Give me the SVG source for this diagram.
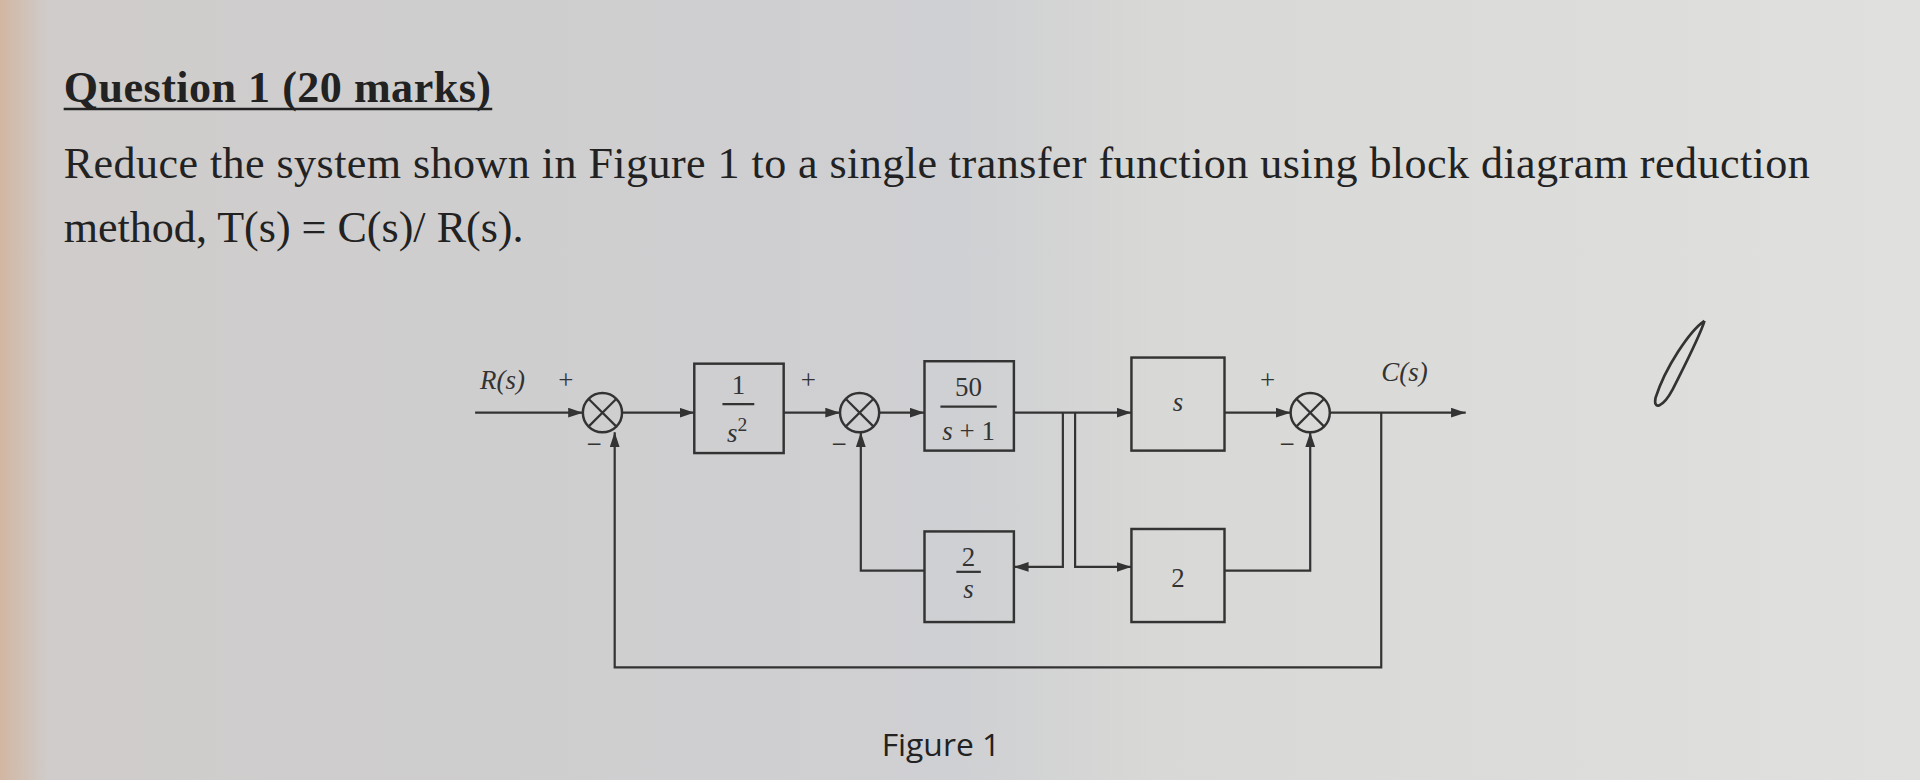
<svg xmlns="http://www.w3.org/2000/svg" width="1920" height="780" viewBox="0 0 1920 780">
<defs>
<linearGradient id="bg" x1="0" y1="0" x2="1" y2="0">
<stop offset="0" stop-color="#d2b6a2"/><stop offset="0.025" stop-color="#cfcccb"/><stop offset="0.5" stop-color="#cfd0d3"/><stop offset="0.6" stop-color="#d8d8d6"/><stop offset="1" stop-color="#e0e0de"/>
</linearGradient>
<marker id="ah" markerWidth="12" markerHeight="8" refX="12" refY="4" orient="auto" markerUnits="userSpaceOnUse"><path d="M0,0 L12,4 L0,8 Z" fill="#333"/></marker>
<style>
.t{font-family:"Liberation Serif",serif;fill:#222}
.b{fill:none;stroke:#333;stroke-width:2}
.w{stroke:#333;stroke-width:1.8;fill:none}
.d{font-family:"Liberation Serif",serif;fill:#333;font-size:22px}
</style>
</defs>
<rect width="1920" height="780" fill="url(#bg)"/>
<g transform="scale(1.2245)">
<g id="text">
<text class="t" x="52" y="83" font-size="36" font-weight="bold" textLength="349">Question 1 (20 marks)</text>
<line x1="52" y1="89" x2="402" y2="89" stroke="#222" stroke-width="2"/>
<text class="t" x="52" y="145" font-size="36" textLength="1426">Reduce the system shown in Figure 1 to a single transfer function using block diagram reduction</text>
<text class="t" x="52" y="198" font-size="36">method, T(s) = C(s)/ R(s).</text>
<text x="720" y="617" font-family="'Open Sans',sans-serif" font-size="26" fill="#222">Figure 1</text>
<path d="M1392,262 C1380,270 1360,300 1352,325 C1350,335 1358,333 1366,318 C1376,298 1388,275 1392,262" fill="none" stroke="#333" stroke-width="2.2"/>
</g>
<g id="connectors">
<line class="w" x1="388" y1="337" x2="476" y2="337" marker-end="url(#ah)"/>
<line class="w" x1="508" y1="337" x2="567" y2="337" marker-end="url(#ah)"/>
<line class="w" x1="640" y1="337" x2="686" y2="337" marker-end="url(#ah)"/>
<line class="w" x1="718" y1="337" x2="755" y2="337" marker-end="url(#ah)"/>
<line class="w" x1="828" y1="337" x2="924" y2="337" marker-end="url(#ah)"/>
<polyline class="w" points="868,337 868,463 828,463" marker-end="url(#ah)"/>
<polyline class="w" points="878,337 878,463 924,463" marker-end="url(#ah)"/>
<polyline class="w" points="755,466 703,466 703,353" marker-end="url(#ah)"/>
<polyline class="w" points="1000,466 1070,466 1070,353" marker-end="url(#ah)"/>
<line class="w" x1="1000" y1="337" x2="1054" y2="337" marker-end="url(#ah)"/>
<line class="w" x1="1086" y1="337" x2="1197" y2="337" marker-end="url(#ah)"/>
<polyline class="w" points="1128,337 1128,545 502,545 502,353" marker-end="url(#ah)"/>
</g>
<g id="R"><text class="d" x="392" y="318" font-style="italic">R(s)</text><text class="d" x="456" y="318">+</text></g>
<g id="sum1"><circle class="b" cx="492" cy="337" r="16"/><path class="w" d="M481,326 L503,348 M503,326 L481,348"/><text class="d" x="479" y="370">−</text></g>
<g id="G1"><rect class="b" x="567" y="297" width="73" height="73"/><text class="d" x="603" y="322" text-anchor="middle">1</text><line class="w" x1="590" y1="330" x2="616" y2="330"/><text class="d" x="602" y="361" text-anchor="middle" font-style="italic">s<tspan dy="-9" font-size="16" font-style="normal">2</tspan></text></g>
<g id="sum2"><circle class="b" cx="702" cy="337" r="16"/><path class="w" d="M691,326 L713,348 M713,326 L691,348"/><text class="d" x="654" y="318">+</text><text class="d" x="679" y="370">−</text></g>
<g id="G2"><rect class="b" x="755" y="295" width="73" height="73"/><text class="d" x="791" y="323" text-anchor="middle">50</text><line class="w" x1="768" y1="332" x2="814" y2="332"/><text class="d" x="791" y="359" text-anchor="middle"><tspan font-style="italic">s</tspan> + 1</text></g>
<g id="G3"><rect class="b" x="924" y="292" width="76" height="76"/><text class="d" x="962" y="336" text-anchor="middle" font-style="italic">s</text></g>
<g id="H1"><rect class="b" x="755" y="434" width="73" height="74"/><text class="d" x="791" y="462" text-anchor="middle">2</text><line class="w" x1="781" y1="467" x2="801" y2="467"/><text class="d" x="791" y="488" text-anchor="middle" font-style="italic">s</text></g>
<g id="H2"><rect class="b" x="924" y="432" width="76" height="76"/><text class="d" x="962" y="479" text-anchor="middle">2</text></g>
<g id="sum3"><circle class="b" cx="1070" cy="337" r="16"/><path class="w" d="M1059,326 L1081,348 M1081,326 L1059,348"/><text class="d" x="1029" y="318">+</text><text class="d" x="1045" y="370">−</text></g>
<g id="C"><text class="d" x="1128" y="311" font-style="italic">C(s)</text></g>
</g>
</svg>
